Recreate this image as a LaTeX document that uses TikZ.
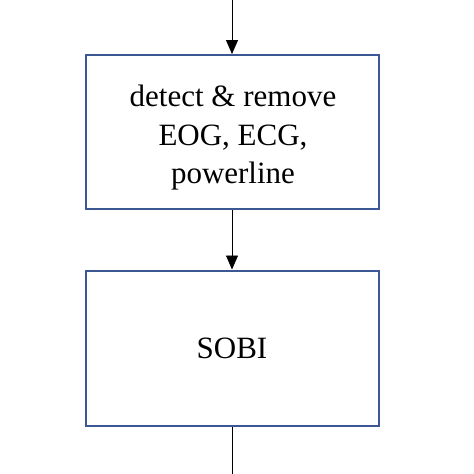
\documentclass[tikz,border=0pt]{standalone}
\usepackage{fontspec}
\setmainfont{Liberation Serif}
\usetikzlibrary{arrows.meta}
\definecolor{boxblue}{RGB}{60,88,148}
\begin{document}
\begin{tikzpicture}[x=1pt,y=-1pt,
  procbox/.style={draw=boxblue,line width=2pt,fill=white,minimum width=293pt,inner sep=0pt,align=center,font=\fontsize{31}{38.5}\selectfont},
  flow/.style={draw=black,line width=0.8pt,-{Triangle[width=12pt,length=14pt]}},
  plain/.style={draw=black,line width=0.8pt}]
\useasboundingbox (0,0) rectangle (474,474);
\coordinate (top) at (232,0);
\coordinate (bot) at (232,474);
\node[procbox,minimum height=154pt] (b1) at (232,132) {};
\node[font=\fontsize{31}{38.5}\selectfont,align=center,inner sep=0pt] (t1) at (233,138) {detect \& remove\\EOG, ECG,\\powerline};
\node[procbox,minimum height=155pt] (b2) at (232,348) {SOBI};
\draw[flow] (top) -- (b1.north);
\draw[flow] (b1.south) -- (b2.north);
\draw[plain] (b2.south) -- (bot);
\end{tikzpicture}
\end{document}
